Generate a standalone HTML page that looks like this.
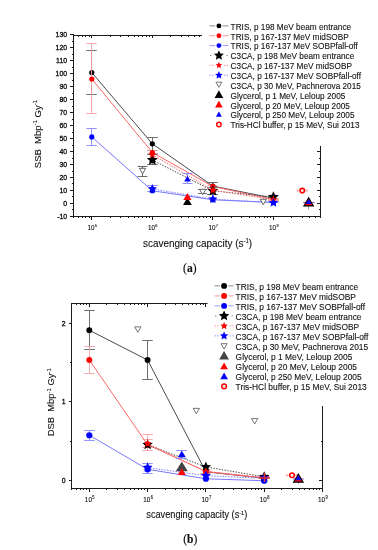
<!DOCTYPE html><html><head><meta charset="utf-8"><style>html,body{margin:0;padding:0;background:#fff;}svg{display:block;}text{font-family:"Liberation Sans",Arial,sans-serif;fill:#111;stroke:#111;stroke-width:0.1px;} .tk{stroke-width:0.3px;}</style></head><body>
<svg width="378" height="550" viewBox="0 0 378 550">
<rect width="378" height="550" fill="#fff"/>
<g stroke="#1a1a1a" stroke-width="1" fill="none" shape-rendering="crispEdges">
<path d="M73.5,35 H320.5 V216.4 H73.5 Z"/>
<path d="M70.3,216.40 H73.5"/>
<path d="M317.3,216.40 H320.5"/>
<path d="M70.3,203.44 H73.5"/>
<path d="M317.3,203.44 H320.5"/>
<path d="M70.3,190.48 H73.5"/>
<path d="M317.3,190.48 H320.5"/>
<path d="M70.3,177.51 H73.5"/>
<path d="M317.3,177.51 H320.5"/>
<path d="M70.3,164.55 H73.5"/>
<path d="M317.3,164.55 H320.5"/>
<path d="M70.3,151.58 H73.5"/>
<path d="M317.3,151.58 H320.5"/>
<path d="M70.3,138.62 H73.5"/>
<path d="M317.3,138.62 H320.5"/>
<path d="M70.3,125.66 H73.5"/>
<path d="M317.3,125.66 H320.5"/>
<path d="M70.3,112.69 H73.5"/>
<path d="M317.3,112.69 H320.5"/>
<path d="M70.3,99.73 H73.5"/>
<path d="M317.3,99.73 H320.5"/>
<path d="M70.3,86.76 H73.5"/>
<path d="M317.3,86.76 H320.5"/>
<path d="M70.3,73.80 H73.5"/>
<path d="M317.3,73.80 H320.5"/>
<path d="M70.3,60.84 H73.5"/>
<path d="M317.3,60.84 H320.5"/>
<path d="M70.3,47.87 H73.5"/>
<path d="M317.3,47.87 H320.5"/>
<path d="M70.3,34.91 H73.5"/>
<path d="M317.3,34.91 H320.5"/>
<path d="M71.7,209.92 H73.5"/>
<path d="M318.7,209.92 H320.5"/>
<path d="M71.7,196.96 H73.5"/>
<path d="M318.7,196.96 H320.5"/>
<path d="M71.7,183.99 H73.5"/>
<path d="M318.7,183.99 H320.5"/>
<path d="M71.7,171.03 H73.5"/>
<path d="M318.7,171.03 H320.5"/>
<path d="M71.7,158.07 H73.5"/>
<path d="M318.7,158.07 H320.5"/>
<path d="M71.7,145.10 H73.5"/>
<path d="M318.7,145.10 H320.5"/>
<path d="M71.7,132.14 H73.5"/>
<path d="M318.7,132.14 H320.5"/>
<path d="M71.7,119.17 H73.5"/>
<path d="M318.7,119.17 H320.5"/>
<path d="M71.7,106.21 H73.5"/>
<path d="M318.7,106.21 H320.5"/>
<path d="M71.7,93.25 H73.5"/>
<path d="M318.7,93.25 H320.5"/>
<path d="M71.7,80.28 H73.5"/>
<path d="M318.7,80.28 H320.5"/>
<path d="M71.7,67.32 H73.5"/>
<path d="M318.7,67.32 H320.5"/>
<path d="M71.7,54.35 H73.5"/>
<path d="M318.7,54.35 H320.5"/>
<path d="M71.7,41.39 H73.5"/>
<path d="M318.7,41.39 H320.5"/>
<path d="M73.58,216.4 V218.20000000000002"/>
<path d="M73.58,35 V36.8"/>
<path d="M78.37,216.4 V218.20000000000002"/>
<path d="M78.37,35 V36.8"/>
<path d="M82.42,216.4 V218.20000000000002"/>
<path d="M82.42,35 V36.8"/>
<path d="M85.93,216.4 V218.20000000000002"/>
<path d="M85.93,35 V36.8"/>
<path d="M89.03,216.4 V218.20000000000002"/>
<path d="M89.03,35 V36.8"/>
<path d="M91.80,216.4 V219.6"/>
<path d="M91.80,35 V38.2"/>
<path d="M110.02,216.4 V218.20000000000002"/>
<path d="M110.02,35 V36.8"/>
<path d="M120.68,216.4 V218.20000000000002"/>
<path d="M120.68,35 V36.8"/>
<path d="M128.24,216.4 V218.20000000000002"/>
<path d="M128.24,35 V36.8"/>
<path d="M134.11,216.4 V218.20000000000002"/>
<path d="M134.11,35 V36.8"/>
<path d="M138.90,216.4 V218.20000000000002"/>
<path d="M138.90,35 V36.8"/>
<path d="M142.95,216.4 V218.20000000000002"/>
<path d="M142.95,35 V36.8"/>
<path d="M146.46,216.4 V218.20000000000002"/>
<path d="M146.46,35 V36.8"/>
<path d="M149.56,216.4 V218.20000000000002"/>
<path d="M149.56,35 V36.8"/>
<path d="M152.33,216.4 V219.6"/>
<path d="M152.33,35 V38.2"/>
<path d="M170.55,216.4 V218.20000000000002"/>
<path d="M170.55,35 V36.8"/>
<path d="M181.21,216.4 V218.20000000000002"/>
<path d="M181.21,35 V36.8"/>
<path d="M188.77,216.4 V218.20000000000002"/>
<path d="M188.77,35 V36.8"/>
<path d="M194.64,216.4 V218.20000000000002"/>
<path d="M194.64,35 V36.8"/>
<path d="M199.43,216.4 V218.20000000000002"/>
<path d="M199.43,35 V36.8"/>
<path d="M203.48,216.4 V218.20000000000002"/>
<path d="M203.48,35 V36.8"/>
<path d="M206.99,216.4 V218.20000000000002"/>
<path d="M206.99,35 V36.8"/>
<path d="M210.09,216.4 V218.20000000000002"/>
<path d="M210.09,35 V36.8"/>
<path d="M212.86,216.4 V219.6"/>
<path d="M212.86,35 V38.2"/>
<path d="M231.08,216.4 V218.20000000000002"/>
<path d="M231.08,35 V36.8"/>
<path d="M241.74,216.4 V218.20000000000002"/>
<path d="M241.74,35 V36.8"/>
<path d="M249.30,216.4 V218.20000000000002"/>
<path d="M249.30,35 V36.8"/>
<path d="M255.17,216.4 V218.20000000000002"/>
<path d="M255.17,35 V36.8"/>
<path d="M259.96,216.4 V218.20000000000002"/>
<path d="M259.96,35 V36.8"/>
<path d="M264.01,216.4 V218.20000000000002"/>
<path d="M264.01,35 V36.8"/>
<path d="M267.52,216.4 V218.20000000000002"/>
<path d="M267.52,35 V36.8"/>
<path d="M270.62,216.4 V218.20000000000002"/>
<path d="M270.62,35 V36.8"/>
<path d="M273.39,216.4 V219.6"/>
<path d="M273.39,35 V38.2"/>
<path d="M291.61,216.4 V218.20000000000002"/>
<path d="M291.61,35 V36.8"/>
<path d="M302.27,216.4 V218.20000000000002"/>
<path d="M302.27,35 V36.8"/>
<path d="M309.83,216.4 V218.20000000000002"/>
<path d="M309.83,35 V36.8"/>
<path d="M315.70,216.4 V218.20000000000002"/>
<path d="M315.70,35 V36.8"/>
<path d="M320.49,216.4 V218.20000000000002"/>
<path d="M320.49,35 V36.8"/>
</g>
<text transform="translate(67.10,218.80) scale(1,1.12)" font-size="6.9" text-anchor="end" class="tk">-10</text>
<text transform="translate(67.10,205.84) scale(1,1.12)" font-size="6.9" text-anchor="end" class="tk">0</text>
<text transform="translate(67.10,192.87) scale(1,1.12)" font-size="6.9" text-anchor="end" class="tk">10</text>
<text transform="translate(67.10,179.91) scale(1,1.12)" font-size="6.9" text-anchor="end" class="tk">20</text>
<text transform="translate(67.10,166.94) scale(1,1.12)" font-size="6.9" text-anchor="end" class="tk">30</text>
<text transform="translate(67.10,153.98) scale(1,1.12)" font-size="6.9" text-anchor="end" class="tk">40</text>
<text transform="translate(67.10,141.02) scale(1,1.12)" font-size="6.9" text-anchor="end" class="tk">50</text>
<text transform="translate(67.10,128.05) scale(1,1.12)" font-size="6.9" text-anchor="end" class="tk">60</text>
<text transform="translate(67.10,115.09) scale(1,1.12)" font-size="6.9" text-anchor="end" class="tk">70</text>
<text transform="translate(67.10,102.12) scale(1,1.12)" font-size="6.9" text-anchor="end" class="tk">80</text>
<text transform="translate(67.10,89.16) scale(1,1.12)" font-size="6.9" text-anchor="end" class="tk">90</text>
<text transform="translate(67.10,76.20) scale(1,1.12)" font-size="6.9" text-anchor="end" class="tk">100</text>
<text transform="translate(67.10,63.23) scale(1,1.12)" font-size="6.9" text-anchor="end" class="tk">110</text>
<text transform="translate(67.10,50.27) scale(1,1.12)" font-size="6.9" text-anchor="end" class="tk">120</text>
<text transform="translate(67.10,37.30) scale(1,1.12)" font-size="6.9" text-anchor="end" class="tk">130</text>
<text transform="translate(92.20,229.60) scale(1,1.12)" font-size="6.3" text-anchor="middle">10<tspan font-size="3.91" dx="0.4" dy="-2.65">5</tspan></text>
<text transform="translate(152.73,229.60) scale(1,1.12)" font-size="6.3" text-anchor="middle">10<tspan font-size="3.91" dx="0.4" dy="-2.65">6</tspan></text>
<text transform="translate(213.26,229.60) scale(1,1.12)" font-size="6.3" text-anchor="middle">10<tspan font-size="3.91" dx="0.4" dy="-2.65">7</tspan></text>
<text transform="translate(273.79,229.60) scale(1,1.12)" font-size="6.3" text-anchor="middle">10<tspan font-size="3.91" dx="0.4" dy="-2.65">8</tspan></text>
<polyline points="91.80,72.50 152.33,143.81 212.86,186.07 273.39,198.25" stroke="#4a4a4a" stroke-width="1.0" fill="none"/>
<path d="M91.50,94.50 V50.50 M86.25,94.50 H96.75 M86.25,50.50 H96.75" stroke="#606060" stroke-width="0.9" fill="none"/>
<path d="M152.50,150.50 V137.50 M147.25,150.50 H157.75 M147.25,137.50 H157.75" stroke="#606060" stroke-width="0.9" fill="none"/>
<path d="M212.50,194.50 V182.50 M207.25,194.50 H217.75 M207.25,182.50 H217.75" stroke="#606060" stroke-width="0.9" fill="none"/>
<circle cx="91.80" cy="72.50" r="2.60" fill="#000"/>
<circle cx="152.33" cy="143.81" r="2.60" fill="#000"/>
<circle cx="212.86" cy="186.07" r="2.60" fill="#000"/>
<circle cx="273.39" cy="198.25" r="2.60" fill="#000"/>
<polyline points="91.80,78.99 152.33,152.49 212.86,186.46 273.39,199.55" stroke="#f66" stroke-width="1.0" fill="none"/>
<path d="M91.50,113.50 V43.50 M86.25,113.50 H96.75 M86.25,43.50 H96.75" stroke="#f8a0a0" stroke-width="0.9" fill="none"/>
<path d="M152.50,153.50 V150.50 M147.25,153.50 H157.75 M147.25,150.50 H157.75" stroke="#f8a0a0" stroke-width="0.9" fill="none"/>
<path d="M212.50,187.50 V185.50 M207.25,187.50 H217.75 M207.25,185.50 H217.75" stroke="#f8a0a0" stroke-width="0.9" fill="none"/>
<path d="M273.50,200.50 V198.50 M268.25,200.50 H278.75 M268.25,198.50 H278.75" stroke="#f8a0a0" stroke-width="0.9" fill="none"/>
<circle cx="91.80" cy="78.99" r="2.60" fill="#f00"/>
<circle cx="152.33" cy="152.49" r="2.60" fill="#f00"/>
<circle cx="212.86" cy="186.46" r="2.60" fill="#f00"/>
<circle cx="273.39" cy="199.55" r="2.60" fill="#f00"/>
<polyline points="91.80,136.93 152.33,190.74 212.86,199.81 273.39,202.40" stroke="#77f" stroke-width="1.0" fill="none"/>
<path d="M91.50,145.50 V128.50 M86.25,145.50 H96.75 M86.25,128.50 H96.75" stroke="#8888ff" stroke-width="0.9" fill="none"/>
<path d="M152.50,191.50 V185.50 M147.25,191.50 H157.75 M147.25,185.50 H157.75" stroke="#8888ff" stroke-width="0.9" fill="none"/>
<circle cx="91.80" cy="136.93" r="2.60" fill="#00f"/>
<circle cx="152.33" cy="190.74" r="2.60" fill="#00f"/>
<circle cx="212.86" cy="199.81" r="2.60" fill="#00f"/>
<circle cx="273.39" cy="202.40" r="2.60" fill="#00f"/>
<polyline points="152.33,160.01 212.86,190.86 273.39,196.96" stroke="#4a4a4a" stroke-width="1.0" fill="none" stroke-dasharray="1.4,1.4"/>
<path d="M152.50,164.50 V154.50 M147.25,164.50 H157.75 M147.25,154.50 H157.75" stroke="#606060" stroke-width="0.9" fill="none"/>
<path d="M212.50,194.50 V187.50 M207.25,194.50 H217.75 M207.25,187.50 H217.75" stroke="#606060" stroke-width="0.9" fill="none"/>
<path d="M152.33,154.26 L153.92,157.82 L157.80,158.23 L154.90,160.85 L155.71,164.66 L152.33,162.71 L148.95,164.66 L149.76,160.85 L146.86,158.23 L150.74,157.82Z" fill="#000"/>
<path d="M212.86,185.11 L214.45,188.68 L218.33,189.09 L215.43,191.70 L216.24,195.52 L212.86,193.57 L209.48,195.52 L210.29,191.70 L207.39,189.09 L211.27,188.68Z" fill="#000"/>
<path d="M273.39,191.21 L274.98,194.77 L278.86,195.18 L275.96,197.79 L276.77,201.61 L273.39,199.66 L270.01,201.61 L270.82,197.79 L267.92,195.18 L271.80,194.77Z" fill="#000"/>
<polyline points="152.33,154.70 212.86,190.22 273.39,199.68" stroke="#f66" stroke-width="1.0" fill="none" stroke-dasharray="1.4,1.4"/>
<path d="M273.50,200.50 V199.50 M268.25,200.50 H278.75 M268.25,199.50 H278.75" stroke="#f8a0a0" stroke-width="0.9" fill="none"/>
<path d="M152.33,150.70 L153.44,153.17 L156.13,153.46 L154.12,155.28 L154.68,157.93 L152.33,156.58 L149.98,157.93 L150.54,155.28 L148.53,153.46 L151.22,153.17Z" fill="#f00"/>
<path d="M212.86,186.22 L213.97,188.70 L216.66,188.98 L214.65,190.80 L215.21,193.45 L212.86,192.10 L210.51,193.45 L211.07,190.80 L209.06,188.98 L211.75,188.70Z" fill="#f00"/>
<path d="M273.39,195.68 L274.50,198.16 L277.19,198.44 L275.18,200.26 L275.74,202.92 L273.39,201.56 L271.04,202.92 L271.60,200.26 L269.59,198.44 L272.28,198.16Z" fill="#f00"/>
<polyline points="152.33,188.92 212.86,199.16 273.39,202.79" stroke="#77f" stroke-width="1.0" fill="none" stroke-dasharray="1.4,1.4"/>
<path d="M273.50,202.50 V201.50 M268.25,202.50 H278.75 M268.25,201.50 H278.75" stroke="#8888ff" stroke-width="0.9" fill="none"/>
<path d="M152.33,184.12 L153.66,187.10 L156.90,187.44 L154.48,189.62 L155.15,192.80 L152.33,191.18 L149.51,192.80 L150.18,189.62 L147.76,187.44 L151.00,187.10Z" fill="#00f"/>
<path d="M212.86,194.36 L214.19,197.34 L217.43,197.68 L215.01,199.86 L215.68,203.05 L212.86,201.42 L210.04,203.05 L210.71,199.86 L208.29,197.68 L211.53,197.34Z" fill="#00f"/>
<path d="M273.39,197.99 L274.72,200.97 L277.96,201.31 L275.54,203.49 L276.21,206.68 L273.39,205.05 L270.57,206.68 L271.24,203.49 L268.82,201.31 L272.06,200.97Z" fill="#00f"/>
<path d="M142.50,176.50 V166.50 M137.50,176.50 H147.50 M137.50,166.50 H147.50" stroke="#4a4a4a" stroke-width="0.8" fill="none"/>
<path d="M202.50,193.50 V189.50 M198.00,193.50 H207.00 M198.00,189.50 H207.00" stroke="#4a4a4a" stroke-width="0.8" fill="none"/>
<path d="M139.43,168.29 L142.58,173.77 L145.73,168.29Z" fill="#fff" stroke="#555" stroke-width="0.9"/>
<path d="M199.57,189.29 L202.72,194.77 L205.87,189.29Z" fill="#fff" stroke="#555" stroke-width="0.9"/>
<path d="M260.10,199.27 L263.25,204.75 L266.40,199.27Z" fill="#fff" stroke="#555" stroke-width="0.9"/>
<path d="M187.50,204.50 V200.50 M187.50,204.50 H187.50 M187.50,200.50 H187.50" stroke="#4a4a4a" stroke-width="0.8" fill="none"/>
<path d="M183.02,205.08 L187.42,197.48 L191.82,205.08Z" fill="#000"/>
<path d="M183.32,200.08 L187.42,192.88 L191.52,200.08Z" fill="#f00"/>
<path d="M187.50,183.50 V173.50 M182.50,183.50 H192.50 M182.50,173.50 H192.50" stroke="#77f" stroke-width="0.8" fill="none"/>
<path d="M184.12,181.39 L187.42,175.79 L190.72,181.39Z" fill="#00f"/>
<path d="M303.13,202.53 H314.63 M303.13,202.53 V202.53 M314.63,202.53 V202.53" stroke="#a040c0" stroke-width="0.9" fill="none"/>
<path d="M308.50,209.50 V202.50 M308.50,209.50 H308.50 M308.50,202.50 H308.50" stroke="#888" stroke-width="0.8" fill="none"/>
<path d="M302.87,206.43 L308.62,196.83 L314.37,206.43Z" fill="#000"/>
<path d="M304.81,205.33 L308.62,198.97 L312.43,205.33Z" fill="#f00"/>
<path d="M305.70,203.93 L308.62,199.04 L311.55,203.93Z" fill="#00f"/>
<path d="M297.48,190.61 H307.06 M297.48,189.11 V192.11 M307.06,189.11 V192.11" stroke="#f9a0a0" stroke-width="0.9" fill="none"/>
<circle cx="302.27" cy="190.61" r="2.25" fill="#fff" stroke="#f00" stroke-width="1.6"/>
<rect x="202" y="18" width="176" height="128" fill="#fff"/>
<path d="M209.5,25.90 H215.20000000000002 M222.6,25.90 H228.5" stroke="#8a8a8a" stroke-width="1"/>
<circle cx="218.90" cy="25.90" r="2.45" fill="#000"/>
<text transform="translate(230.60,29.73) scale(1,1.12)" font-size="8.25">TRIS, p 198 MeV beam entrance</text>
<path d="M209.5,35.76 H215.20000000000002 M222.6,35.76 H228.5" stroke="#f99" stroke-width="1"/>
<circle cx="218.90" cy="35.76" r="2.45" fill="#f00"/>
<text transform="translate(230.60,39.59) scale(1,1.12)" font-size="8.25">TRIS, p 167-137 MeV midSOBP</text>
<path d="M209.5,45.62 H215.20000000000002 M222.6,45.62 H228.5" stroke="#99f" stroke-width="1"/>
<circle cx="218.90" cy="45.62" r="2.45" fill="#00f"/>
<text transform="translate(230.60,49.45) scale(1,1.12)" font-size="8.25">TRIS, p 167-137 MeV SOBPfall-off</text>
<path d="M210.0,55.48 h1.2 M226.5,55.48 h1.2" stroke="#777" stroke-width="1"/>
<path d="M218.90,50.28 L220.34,53.50 L223.85,53.87 L221.22,56.24 L221.96,59.69 L218.90,57.92 L215.84,59.69 L216.58,56.24 L213.95,53.87 L217.46,53.50Z" fill="#000"/>
<text transform="translate(230.60,59.31) scale(1,1.12)" font-size="8.25">C3CA, p 198 MeV beam entrance</text>
<path d="M209.5,65.34 H213.70000000000002" stroke="#f88" stroke-width="1" stroke-dasharray="1.3,1.3"/>
<path d="M224.1,65.34 H228.5" stroke="#f88" stroke-width="1" stroke-dasharray="1.3,1.3"/>
<path d="M218.90,61.84 L219.87,64.01 L222.23,64.26 L220.46,65.85 L220.96,68.17 L218.90,66.98 L216.84,68.17 L217.34,65.85 L215.57,64.26 L217.93,64.01Z" fill="#f00"/>
<text transform="translate(230.60,69.17) scale(1,1.12)" font-size="8.25">C3CA, p 167-137 MeV midSOBP</text>
<path d="M209.5,75.20 H213.70000000000002" stroke="#88f" stroke-width="1" stroke-dasharray="1.3,1.3"/>
<path d="M224.1,75.20 H228.5" stroke="#88f" stroke-width="1" stroke-dasharray="1.3,1.3"/>
<path d="M218.90,71.10 L220.03,73.64 L222.80,73.93 L220.73,75.80 L221.31,78.52 L218.90,77.13 L216.49,78.52 L217.07,75.80 L215.00,73.93 L217.77,73.64Z" fill="#00f"/>
<text transform="translate(230.60,79.03) scale(1,1.12)" font-size="8.25">C3CA, p 167-137 MeV SOBPfall-off</text>
<path d="M215.95,82.19 L218.90,87.33 L221.85,82.19Z" fill="#fff" stroke="#555" stroke-width="0.8"/>
<text transform="translate(230.60,88.89) scale(1,1.12)" font-size="8.25">C3CA, p 30 MeV, Pachnerova 2015</text>
<path d="M214.55,97.90 L218.90,90.34 L223.25,97.90Z" fill="#000"/>
<text transform="translate(230.60,98.75) scale(1,1.12)" font-size="8.25">Glycerol, p 1 MeV, Leloup 2005</text>
<path d="M215.05,107.53 L218.90,100.83 L222.75,107.53Z" fill="#f00"/>
<text transform="translate(230.60,108.61) scale(1,1.12)" font-size="8.25">Glycerol, p 20 MeV, Leloup 2005</text>
<path d="M215.95,116.71 L218.90,111.57 L221.85,116.71Z" fill="#00f"/>
<text transform="translate(230.60,118.47) scale(1,1.12)" font-size="8.25">Glycerol, p 250 MeV, Leloup 2005</text>
<circle cx="218.90" cy="124.50" r="2.20" fill="#fff" stroke="#f00" stroke-width="1.4"/>
<text transform="translate(230.60,128.33) scale(1,1.12)" font-size="8.25">Tris-HCl buffer, p 15 MeV, Sui 2013</text>
<text transform="translate(40.9,134.0) rotate(-90) scale(1.13,1)" font-size="8.4" text-anchor="middle" class="yt" xml:space="preserve">SSB  Mbp<tspan font-size="5.4" dy="-3.6">-1</tspan><tspan dy="3.6"> Gy</tspan><tspan font-size="5.4" dy="-3.6">-1</tspan></text>
<text transform="translate(143,247.4) scale(1,1.1)" font-size="9.95">scavenging capacity (s<tspan font-size="6" dy="-3.6">-1</tspan><tspan dy="3.6">)</tspan></text>
<text x="189.8" y="272.3" font-size="11.5" text-anchor="middle" style="font-family:'Liberation Serif',serif;stroke-width:0.15px">(<tspan font-weight="bold">a</tspan>)</text>
<g stroke="#1a1a1a" stroke-width="1" fill="none" shape-rendering="crispEdges">
<path d="M71.7,303.6 H322.5 V488.6 H71.7 Z"/>
<path d="M68.5,480.50 H71.7"/>
<path d="M319.3,480.50 H322.5"/>
<path d="M68.5,401.90 H71.7"/>
<path d="M319.3,401.90 H322.5"/>
<path d="M68.5,323.30 H71.7"/>
<path d="M319.3,323.30 H322.5"/>
<path d="M69.9,441.20 H71.7"/>
<path d="M320.7,441.20 H322.5"/>
<path d="M69.9,362.60 H71.7"/>
<path d="M320.7,362.60 H322.5"/>
<path d="M71.75,488.6 V490.40000000000003"/>
<path d="M71.75,303.6 V305.40000000000003"/>
<path d="M76.37,488.6 V490.40000000000003"/>
<path d="M76.37,303.6 V305.40000000000003"/>
<path d="M80.27,488.6 V490.40000000000003"/>
<path d="M80.27,303.6 V305.40000000000003"/>
<path d="M83.65,488.6 V490.40000000000003"/>
<path d="M83.65,303.6 V305.40000000000003"/>
<path d="M86.63,488.6 V490.40000000000003"/>
<path d="M86.63,303.6 V305.40000000000003"/>
<path d="M89.30,488.6 V491.8"/>
<path d="M89.30,303.6 V306.8"/>
<path d="M106.85,488.6 V490.40000000000003"/>
<path d="M106.85,303.6 V305.40000000000003"/>
<path d="M117.12,488.6 V490.40000000000003"/>
<path d="M117.12,303.6 V305.40000000000003"/>
<path d="M124.40,488.6 V490.40000000000003"/>
<path d="M124.40,303.6 V305.40000000000003"/>
<path d="M130.05,488.6 V490.40000000000003"/>
<path d="M130.05,303.6 V305.40000000000003"/>
<path d="M134.67,488.6 V490.40000000000003"/>
<path d="M134.67,303.6 V305.40000000000003"/>
<path d="M138.57,488.6 V490.40000000000003"/>
<path d="M138.57,303.6 V305.40000000000003"/>
<path d="M141.95,488.6 V490.40000000000003"/>
<path d="M141.95,303.6 V305.40000000000003"/>
<path d="M144.93,488.6 V490.40000000000003"/>
<path d="M144.93,303.6 V305.40000000000003"/>
<path d="M147.60,488.6 V491.8"/>
<path d="M147.60,303.6 V306.8"/>
<path d="M165.15,488.6 V490.40000000000003"/>
<path d="M165.15,303.6 V305.40000000000003"/>
<path d="M175.42,488.6 V490.40000000000003"/>
<path d="M175.42,303.6 V305.40000000000003"/>
<path d="M182.70,488.6 V490.40000000000003"/>
<path d="M182.70,303.6 V305.40000000000003"/>
<path d="M188.35,488.6 V490.40000000000003"/>
<path d="M188.35,303.6 V305.40000000000003"/>
<path d="M192.97,488.6 V490.40000000000003"/>
<path d="M192.97,303.6 V305.40000000000003"/>
<path d="M196.87,488.6 V490.40000000000003"/>
<path d="M196.87,303.6 V305.40000000000003"/>
<path d="M200.25,488.6 V490.40000000000003"/>
<path d="M200.25,303.6 V305.40000000000003"/>
<path d="M203.23,488.6 V490.40000000000003"/>
<path d="M203.23,303.6 V305.40000000000003"/>
<path d="M205.90,488.6 V491.8"/>
<path d="M205.90,303.6 V306.8"/>
<path d="M223.45,488.6 V490.40000000000003"/>
<path d="M223.45,303.6 V305.40000000000003"/>
<path d="M233.72,488.6 V490.40000000000003"/>
<path d="M233.72,303.6 V305.40000000000003"/>
<path d="M241.00,488.6 V490.40000000000003"/>
<path d="M241.00,303.6 V305.40000000000003"/>
<path d="M246.65,488.6 V490.40000000000003"/>
<path d="M246.65,303.6 V305.40000000000003"/>
<path d="M251.27,488.6 V490.40000000000003"/>
<path d="M251.27,303.6 V305.40000000000003"/>
<path d="M255.17,488.6 V490.40000000000003"/>
<path d="M255.17,303.6 V305.40000000000003"/>
<path d="M258.55,488.6 V490.40000000000003"/>
<path d="M258.55,303.6 V305.40000000000003"/>
<path d="M261.53,488.6 V490.40000000000003"/>
<path d="M261.53,303.6 V305.40000000000003"/>
<path d="M264.20,488.6 V491.8"/>
<path d="M264.20,303.6 V306.8"/>
<path d="M281.75,488.6 V490.40000000000003"/>
<path d="M281.75,303.6 V305.40000000000003"/>
<path d="M292.02,488.6 V490.40000000000003"/>
<path d="M292.02,303.6 V305.40000000000003"/>
<path d="M299.30,488.6 V490.40000000000003"/>
<path d="M299.30,303.6 V305.40000000000003"/>
<path d="M304.95,488.6 V490.40000000000003"/>
<path d="M304.95,303.6 V305.40000000000003"/>
<path d="M309.57,488.6 V490.40000000000003"/>
<path d="M309.57,303.6 V305.40000000000003"/>
<path d="M313.47,488.6 V490.40000000000003"/>
<path d="M313.47,303.6 V305.40000000000003"/>
<path d="M316.85,488.6 V490.40000000000003"/>
<path d="M316.85,303.6 V305.40000000000003"/>
<path d="M319.83,488.6 V490.40000000000003"/>
<path d="M319.83,303.6 V305.40000000000003"/>
<path d="M322.50,488.6 V491.8"/>
<path d="M322.50,303.6 V306.8"/>
</g>
<text transform="translate(65.60,482.90) scale(1,1.12)" font-size="6.9" text-anchor="end" class="tk">0</text>
<text transform="translate(65.60,404.30) scale(1,1.12)" font-size="6.9" text-anchor="end" class="tk">1</text>
<text transform="translate(65.60,325.70) scale(1,1.12)" font-size="6.9" text-anchor="end" class="tk">2</text>
<text transform="translate(89.70,502.00) scale(1,1.12)" font-size="6.4" text-anchor="middle">10<tspan font-size="3.97" dx="0.4" dy="-2.69">5</tspan></text>
<text transform="translate(148.00,502.00) scale(1,1.12)" font-size="6.4" text-anchor="middle">10<tspan font-size="3.97" dx="0.4" dy="-2.69">6</tspan></text>
<text transform="translate(206.30,502.00) scale(1,1.12)" font-size="6.4" text-anchor="middle">10<tspan font-size="3.97" dx="0.4" dy="-2.69">7</tspan></text>
<text transform="translate(264.60,502.00) scale(1,1.12)" font-size="6.4" text-anchor="middle">10<tspan font-size="3.97" dx="0.4" dy="-2.69">8</tspan></text>
<text transform="translate(322.90,502.00) scale(1,1.12)" font-size="6.4" text-anchor="middle">10<tspan font-size="3.97" dx="0.4" dy="-2.69">9</tspan></text>
<polyline points="89.30,330.22 147.60,360.01 205.90,471.85 264.20,478.14" stroke="#4a4a4a" stroke-width="1.0" fill="none"/>
<path d="M89.50,349.50 V310.50 M84.25,349.50 H94.75 M84.25,310.50 H94.75" stroke="#606060" stroke-width="0.9" fill="none"/>
<path d="M147.50,379.50 V340.50 M142.25,379.50 H152.75 M142.25,340.50 H152.75" stroke="#606060" stroke-width="0.9" fill="none"/>
<circle cx="89.30" cy="330.22" r="2.95" fill="#000"/>
<circle cx="147.60" cy="360.01" r="2.95" fill="#000"/>
<circle cx="205.90" cy="471.85" r="2.95" fill="#000"/>
<circle cx="264.20" cy="478.14" r="2.95" fill="#000"/>
<polyline points="89.30,360.01 147.60,444.74 205.90,471.46 264.20,478.14" stroke="#f66" stroke-width="1.0" fill="none"/>
<path d="M89.50,373.50 V346.50 M84.25,373.50 H94.75 M84.25,346.50 H94.75" stroke="#f8a0a0" stroke-width="0.9" fill="none"/>
<path d="M147.50,450.50 V434.50 M142.25,450.50 H152.75 M142.25,434.50 H152.75" stroke="#f8a0a0" stroke-width="0.9" fill="none"/>
<path d="M147.50,447.50 V439.50 M142.25,447.50 H152.75 M142.25,439.50 H152.75" stroke="#f8a0a0" stroke-width="0.9" fill="none"/>
<path d="M205.50,473.50 V469.50 M200.25,473.50 H210.75 M200.25,469.50 H210.75" stroke="#f8a0a0" stroke-width="0.9" fill="none"/>
<path d="M264.50,478.50 V476.50 M259.25,478.50 H269.75 M259.25,476.50 H269.75" stroke="#f8a0a0" stroke-width="0.9" fill="none"/>
<circle cx="89.30" cy="360.01" r="2.95" fill="#f00"/>
<circle cx="147.60" cy="444.74" r="2.95" fill="#f00"/>
<circle cx="205.90" cy="471.46" r="2.95" fill="#f00"/>
<circle cx="264.20" cy="478.14" r="2.95" fill="#f00"/>
<polyline points="89.30,435.23 147.60,469.34 205.90,478.77 264.20,480.74" stroke="#77f" stroke-width="1.0" fill="none"/>
<path d="M89.50,440.50 V430.50 M84.25,440.50 H94.75 M84.25,430.50 H94.75" stroke="#8888ff" stroke-width="0.9" fill="none"/>
<path d="M147.50,473.50 V463.50 M142.25,473.50 H152.75 M142.25,463.50 H152.75" stroke="#8888ff" stroke-width="0.9" fill="none"/>
<circle cx="89.30" cy="435.23" r="3.10" fill="#00f"/>
<circle cx="147.60" cy="469.34" r="3.10" fill="#00f"/>
<circle cx="205.90" cy="478.77" r="3.10" fill="#00f"/>
<circle cx="264.20" cy="480.74" r="3.10" fill="#00f"/>
<polyline points="147.60,444.74 205.90,466.98 264.20,476.81" stroke="#4a4a4a" stroke-width="1.0" fill="none" stroke-dasharray="1.4,1.4"/>
<path d="M147.60,439.24 L149.12,442.65 L152.83,443.04 L150.06,445.54 L150.83,449.19 L147.60,447.32 L144.37,449.19 L145.14,445.54 L142.37,443.04 L146.08,442.65Z" fill="#000"/>
<path d="M205.90,461.48 L207.42,464.89 L211.13,465.28 L208.36,467.78 L209.13,471.43 L205.90,469.57 L202.67,471.43 L203.44,467.78 L200.67,465.28 L204.38,464.89Z" fill="#000"/>
<path d="M264.20,471.31 L265.72,474.71 L269.43,475.11 L266.66,477.60 L267.43,481.26 L264.20,479.39 L260.97,481.26 L261.74,477.60 L258.97,475.11 L262.68,474.71Z" fill="#000"/>
<polyline points="147.60,443.56 205.90,471.46 264.20,477.51" stroke="#f66" stroke-width="1.0" fill="none" stroke-dasharray="1.4,1.4"/>
<path d="M147.60,439.56 L148.71,442.04 L151.40,442.32 L149.39,444.14 L149.95,446.79 L147.60,445.44 L145.25,446.79 L145.81,444.14 L143.80,442.32 L146.49,442.04Z" fill="#f00"/>
<path d="M205.90,467.46 L207.01,469.94 L209.70,470.22 L207.69,472.04 L208.25,474.70 L205.90,473.34 L203.55,474.70 L204.11,472.04 L202.10,470.22 L204.79,469.94Z" fill="#f00"/>
<path d="M264.20,473.51 L265.31,475.99 L268.00,476.28 L265.99,478.09 L266.55,480.75 L264.20,479.39 L261.85,480.75 L262.41,478.09 L260.40,476.28 L263.09,475.99Z" fill="#f00"/>
<polyline points="147.60,467.61 205.90,475.63 264.20,478.30" stroke="#77f" stroke-width="1.0" fill="none" stroke-dasharray="1.4,1.4"/>
<path d="M147.60,462.36 L149.05,465.61 L152.59,465.99 L149.95,468.37 L150.69,471.86 L147.60,470.08 L144.51,471.86 L145.25,468.37 L142.61,465.99 L146.15,465.61Z" fill="#00f"/>
<path d="M205.90,470.38 L207.35,473.63 L210.89,474.00 L208.25,476.39 L208.99,479.87 L205.90,478.09 L202.81,479.87 L203.55,476.39 L200.91,474.00 L204.45,473.63Z" fill="#00f"/>
<path d="M264.20,473.05 L265.65,476.30 L269.19,476.68 L266.55,479.06 L267.29,482.55 L264.20,480.77 L261.11,482.55 L261.85,479.06 L259.21,476.68 L262.75,476.30Z" fill="#00f"/>
<path d="M258.50,478 H269.90 M264.5,473 V482" stroke="#e03030" stroke-width="1.5" fill="none"/>
<path d="M134.69,326.85 L137.84,332.33 L140.99,326.85Z" fill="#fff" stroke="#555" stroke-width="0.8"/>
<path d="M193.17,408.36 L196.32,413.84 L199.47,408.36Z" fill="#fff" stroke="#555" stroke-width="0.8"/>
<path d="M251.51,418.57 L254.66,424.05 L257.81,418.57Z" fill="#fff" stroke="#555" stroke-width="0.8"/>
<path d="M175.80,471.25 L181.80,461.45 L187.80,471.25Z" fill="#444"/>
<path d="M177.70,475.00 L181.80,468.40 L185.90,475.00Z" fill="#f00"/>
<path d="M181.50,458.50 V450.50 M176.00,458.50 H187.00 M176.00,450.50 H187.00" stroke="#8888ff" stroke-width="0.9" fill="none"/>
<path d="M177.80,457.31 L181.80,450.71 L185.80,457.31Z" fill="#00f"/>
<path d="M292.85,478.93 H303.92 M292.85,478.93 V478.93 M303.92,478.93 V478.93" stroke="#a040c0" stroke-width="0.9" fill="none"/>
<path d="M298.50,483.50 V478.50 M298.50,483.50 H298.50 M298.50,478.50 H298.50" stroke="#4a4a4a" stroke-width="0.8" fill="none"/>
<path d="M292.58,482.63 L298.33,473.03 L304.08,482.63Z" fill="#000"/>
<path d="M294.52,481.53 L298.33,475.17 L302.14,481.53Z" fill="#f00"/>
<path d="M295.41,480.13 L298.33,475.24 L301.26,480.13Z" fill="#00f"/>
<path d="M286.89,475.31 H296.28 M286.89,474.01 V476.61 M296.28,474.01 V476.61" stroke="#f88" stroke-width="0.9" fill="none"/>
<circle cx="292.02" cy="475.31" r="2.30" fill="#fff" stroke="#f00" stroke-width="1.5"/>
<rect x="207.5" y="276" width="170.5" height="130" fill="#fff"/>
<path d="M214.6,285.90 H219.9 M228.29999999999998,285.90 H233.6" stroke="#8a8a8a" stroke-width="1"/>
<circle cx="224.10" cy="285.90" r="2.95" fill="#000"/>
<text transform="translate(235.60,290.09) scale(1,1.12)" font-size="8.4">TRIS, p 198 MeV beam entrance</text>
<path d="M214.6,295.90 H219.9 M228.29999999999998,295.90 H233.6" stroke="#f99" stroke-width="1"/>
<circle cx="224.10" cy="295.90" r="2.95" fill="#f00"/>
<text transform="translate(235.60,300.09) scale(1,1.12)" font-size="8.4">TRIS, p 167-137 MeV midSOBP</text>
<path d="M214.6,305.90 H219.9 M228.29999999999998,305.90 H233.6" stroke="#99f" stroke-width="1"/>
<circle cx="224.10" cy="305.90" r="2.95" fill="#00f"/>
<text transform="translate(235.60,310.09) scale(1,1.12)" font-size="8.4">TRIS, p 167-137 MeV SOBPfall-off</text>
<path d="M215.1,315.90 h1.2 M231.6,315.90 h1.2" stroke="#777" stroke-width="1"/>
<path d="M224.10,310.50 L225.59,313.85 L229.24,314.23 L226.51,316.68 L227.27,320.27 L224.10,318.44 L220.93,320.27 L221.69,316.68 L218.96,314.23 L222.61,313.85Z" fill="#000"/>
<text transform="translate(235.60,320.09) scale(1,1.12)" font-size="8.4">C3CA, p 198 MeV beam entrance</text>
<path d="M214.6,325.90 H218.4" stroke="#f88" stroke-width="1" stroke-dasharray="1.3,1.3"/>
<path d="M229.79999999999998,325.90 H233.6" stroke="#f88" stroke-width="1" stroke-dasharray="1.3,1.3"/>
<path d="M224.10,321.90 L225.21,324.38 L227.90,324.66 L225.89,326.48 L226.45,329.14 L224.10,327.78 L221.75,329.14 L222.31,326.48 L220.30,324.66 L222.99,324.38Z" fill="#f00"/>
<text transform="translate(235.60,330.09) scale(1,1.12)" font-size="8.4">C3CA, p 167-137 MeV midSOBP</text>
<path d="M214.6,335.90 H218.4" stroke="#88f" stroke-width="1" stroke-dasharray="1.3,1.3"/>
<path d="M229.79999999999998,335.90 H233.6" stroke="#88f" stroke-width="1" stroke-dasharray="1.3,1.3"/>
<path d="M224.10,331.45 L225.33,334.21 L228.33,334.52 L226.09,336.55 L226.72,339.50 L224.10,337.99 L221.48,339.50 L222.11,336.55 L219.87,334.52 L222.87,334.21Z" fill="#00f"/>
<text transform="translate(235.60,340.09) scale(1,1.12)" font-size="8.4">C3CA, p 167-137 MeV SOBPfall-off</text>
<path d="M221.00,343.70 L224.10,349.10 L227.20,343.70Z" fill="#fff" stroke="#555" stroke-width="0.8"/>
<text transform="translate(235.60,350.09) scale(1,1.12)" font-size="8.4">C3CA, p 30 MeV, Pachnerova 2015</text>
<path d="M219.20,359.56 L224.10,351.04 L229.00,359.56Z" fill="#444"/>
<text transform="translate(235.60,360.09) scale(1,1.12)" font-size="8.4">Glycerol, p 1 MeV, Leloup 2005</text>
<path d="M220.25,369.25 L224.10,362.55 L227.95,369.25Z" fill="#f00"/>
<text transform="translate(235.60,370.09) scale(1,1.12)" font-size="8.4">Glycerol, p 20 MeV, Leloup 2005</text>
<path d="M220.25,379.15 L224.10,372.45 L227.95,379.15Z" fill="#00f"/>
<text transform="translate(235.60,380.09) scale(1,1.12)" font-size="8.4">Glycerol, p 250 MeV, Leloup 2005</text>
<circle cx="224.10" cy="386.40" r="2.30" fill="#fff" stroke="#f00" stroke-width="1.5"/>
<text transform="translate(235.60,390.09) scale(1,1.12)" font-size="8.4">Tris-HCl buffer, p 15 MeV, Sui 2013</text>
<text transform="translate(54.3,402.2) rotate(-90) scale(1.13,1)" font-size="8.3" text-anchor="middle" class="yt" xml:space="preserve">DSB  Mbp<tspan font-size="5.3" dy="-3.5">-1</tspan><tspan dy="3.5"> Gy</tspan><tspan font-size="5.3" dy="-3.5">-1</tspan></text>
<text transform="translate(146.3,518.4) scale(1,1.1)" font-size="9.2">scavenging capacity (s<tspan font-size="5.6" dy="-3.4">-1</tspan><tspan dy="3.4">)</tspan></text>
<text x="190.2" y="543.3" font-size="11.5" text-anchor="middle" style="font-family:'Liberation Serif',serif;stroke-width:0.15px">(<tspan font-weight="bold">b</tspan>)</text>
</svg></body></html>
